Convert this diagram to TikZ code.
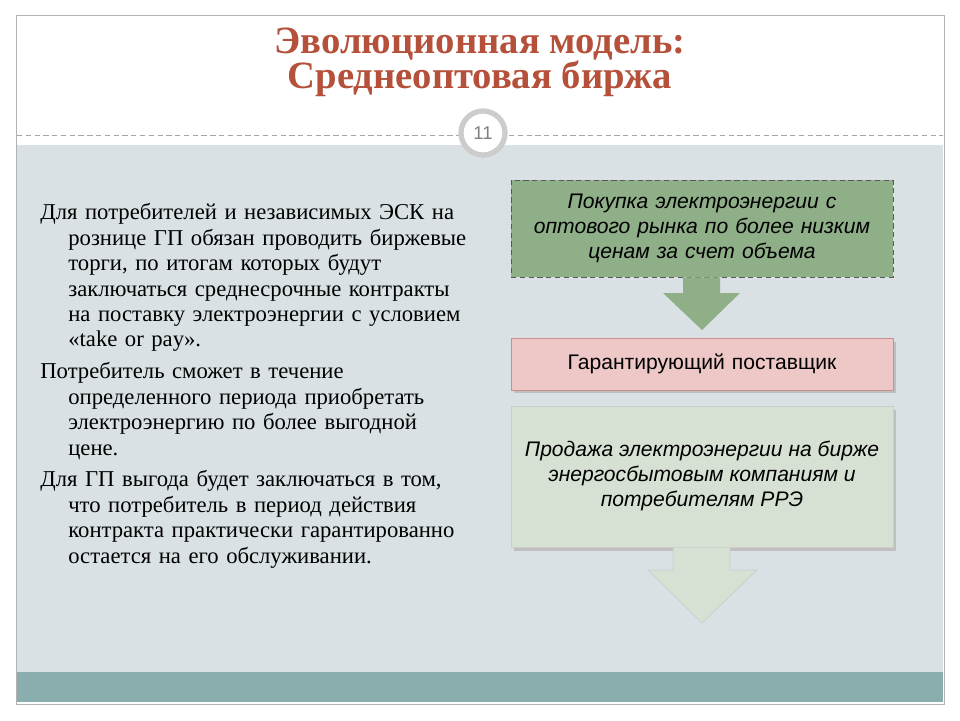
\documentclass[tikz,border=0pt]{standalone}
\usepackage{fontspec}
\setmainfont{Liberation Serif}
\setsansfont{Liberation Sans}
\definecolor{titlered}{HTML}{B5513A}
\definecolor{slidebg}{HTML}{D9E1E4}
\definecolor{barteal}{HTML}{8AADAD}
\definecolor{darkgreen}{HTML}{8FAF88}
\definecolor{palegreen}{HTML}{D7E1D3}
\definecolor{pinkfill}{HTML}{EDC8C6}
\definecolor{pinkline}{HTML}{C98F8C}
\begin{document}
\begin{tikzpicture}[x=0.02cm,y=-0.02cm]
\tikzstyle{box} = [draw, minimum width=382*0.02cm, font=\sffamily\fontsize{12}{14.3}\selectfont, align=center, text width=370*0.02cm]
\tikzstyle{shade} = [fill=black!25]
\useasboundingbox (0,0) rectangle (960,720);
\fill[white] (0,0) rectangle (960,720);
% slide frame
\draw[gray!60] (16,15) rectangle (944,704);
\fill[slidebg] (17,145) rectangle (943,672);
\fill[barteal] (17,672) rectangle (943,702);
\draw[gray!70, densely dashed] (17,135) -- (943,135);
% page number
\node[circle, draw=gray!40, line width=3pt, fill=white, minimum size=44*0.02cm, text=gray, font=\sffamily\fontsize{10.5}{12}\selectfont] (pnum) at (483,133) {11};
% title
\node[text=titlered, font=\bfseries\fontsize{22}{20}\selectfont, align=center] (title) at (480,62) {Эволюционная модель:\\Среднеоптовая биржа};
% left text
\node[anchor=north west, inner sep=0, text width=460*0.02cm, font=\fontsize{12.9}{14.5}\selectfont] (body) at (40,203) {%
\raggedright\parskip=3.5pt
\hangindent=0.56cm\hangafter=1 Для потребителей и независимых ЭСК на\newline розницe ГП обязан проводить биржевые\newline торги, по итогам которых будут\newline заключаться среднесрочные контракты\newline на поставку электроэнергии с условием\newline «take or pay».\par
\hangindent=0.56cm\hangafter=1 Потребитель сможет в течение\newline определенного периода приобретать\newline электроэнергию по более выгодной\newline цене.\par
\hangindent=0.56cm\hangafter=1 Для ГП выгода будет заключаться в том,\newline что потребитель в период действия\newline контракта практически гарантированно\newline остается на его обслуживании.\par};
% right boxes
\fill[shade] (514,410) rectangle (896,551);
\fill[shade] (514,342) rectangle (896,393);
\node[box, fill=darkgreen, draw=gray!70!black, densely dashed, minimum height=97*0.02cm, font=\sffamily\itshape\fontsize{12}{14.3}\selectfont] (buy) at (702,228.5) {Покупка электроэнергии с\\оптового рынка по более низким\\ценам за счет объема};
\node[box, fill=pinkfill, draw=pinkline, minimum height=52*0.02cm] (gp) at (702,364) {Гарантирующий поставщик};
\node[box, fill=palegreen, draw=gray!40, minimum height=141*0.02cm, anchor=north] (sell) at (702,406) {};
\node[font=\sffamily\itshape\fontsize{12}{14.3}\selectfont, align=center] (selltxt) at (702,476) {Продажа электроэнергии на бирже\\энергосбытовым компаниям и\\потребителям РРЭ};
% arrows
\fill[darkgreen] (buy.south -| 683,0) -- (683,293) -- (663,293) -- (702,330) -- (740,293) -- (720,293) -- (buy.south -| 720,0) -- cycle;
\fill[palegreen, draw=gray!40] (sell.south -| 673,0) -- (673,570) -- (648,570) -- (702,623) -- (757,570) -- (730,570) -- (sell.south -| 730,0);
\end{tikzpicture}
\end{document}
